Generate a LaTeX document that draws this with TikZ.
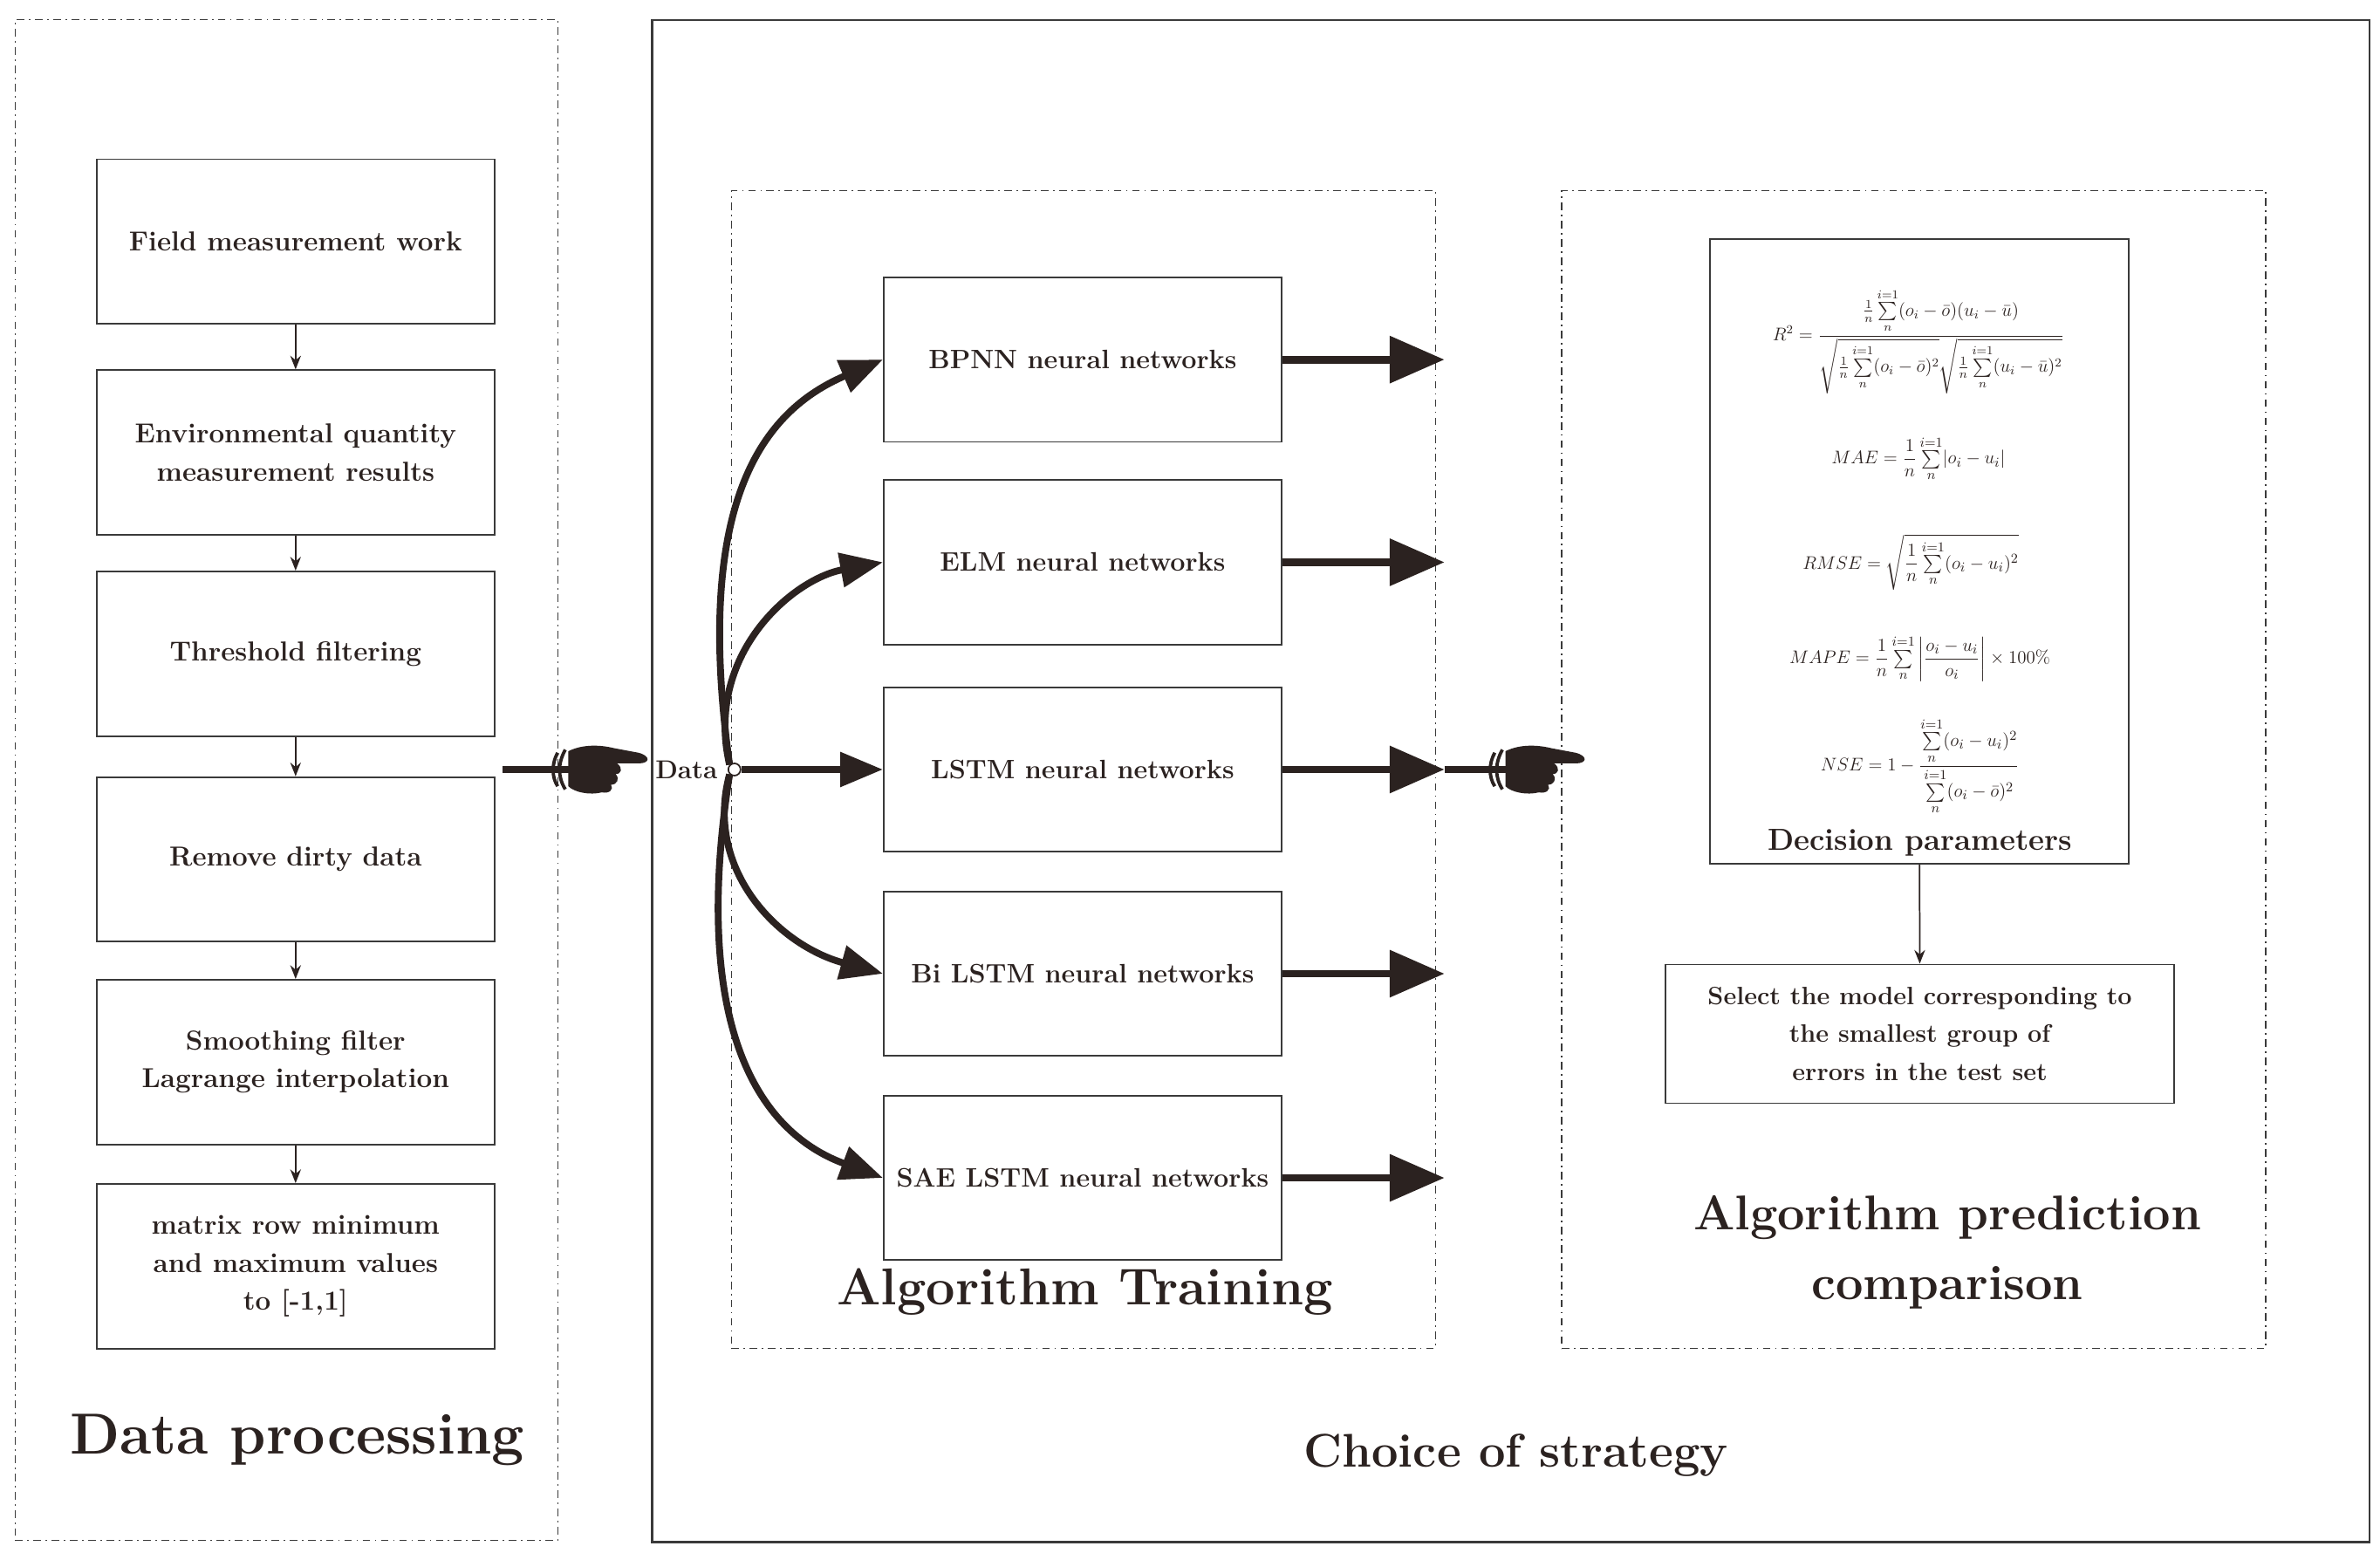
\documentclass[tikz,border=0pt]{standalone}
\usepackage{amsmath}
\usetikzlibrary{arrows.meta}
\definecolor{ink}{HTML}{2B2220}
\definecolor{frame}{HTML}{3A3A3A}
\begin{document}
\begin{tikzpicture}[x=1pt,y=-1pt,
  dd/.style={draw=frame,line width=0.8pt,dash pattern=on 5pt off 3pt on 1pt off 3pt},
  box/.style={draw=frame,line width=1.1pt,text=ink,align=center,font=\fontsize{18}{25}\selectfont\bfseries,inner sep=0pt},
  small/.style={-{Stealth[length=9pt,width=7pt]},line width=1pt,draw=ink},
  big/.style={-{Triangle[length=36pt,width=30pt]},line width=5pt,draw=ink},
  curv/.style={-{Triangle[length=28pt,width=22pt]},line width=4.5pt,draw=ink},
  title/.style={text=ink,font=\fontsize{36}{42}\selectfont\bfseries,align=center},
  eq/.style={text=ink,font=\fontsize{12.5}{15}\selectfont},
]
\useasboundingbox (0,0) rectangle (1562,1019);
% outer frames
\node[dd,minimum width=356pt,minimum height=998pt,inner sep=0pt] (dp) at (188,512) {};
\draw[frame,line width=1.2pt] (428,13) rectangle (1555,1012);
\node[dd,minimum width=462pt,minimum height=760pt,inner sep=0pt] (at) at (711,505) {};
\node[dd,minimum width=462pt,minimum height=760pt,inner sep=0pt] (ap) at (1256,505) {};
% left boxes
\foreach \n/\y/\t in {b1/158.5/Field measurement work,
  b2/297/{Environmental quantity\\ measurement results},
  b3/429/Threshold filtering,
  b4/564/Remove dirty data,
  b5/697/{Smoothing filter\\ Lagrange interpolation},
  b6/831/{matrix row minimum\\ and maximum values\\ to [-1,1]}}
  \node[box,minimum width=261pt,minimum height=108pt] (\n) at (194,\y) {\t};
\foreach \a/\b in {b1/b2,b2/b3,b3/b4,b4/b5,b5/b6} \draw[small] (\a) -- (\b);
\node[title,font=\fontsize{38}{44}\selectfont\bfseries] (tdp) at (195,945) {Data processing};
% NN boxes
\foreach \n/\y/\t in {bp/236/BPNN neural networks, el/369/ELM neural networks,
  ls/505/LSTM neural networks, bi/639/Bi LSTM neural networks, sa/773/SAE LSTM neural networks}
  \node[box,minimum width=261pt,minimum height=108pt,font=\fontsize{17.5}{20}\selectfont\bfseries] (\n) at (710.5,\y) {\t};
\foreach \n in {bp,el,bi,sa} {
  \coordinate (\n o) at (948,0 |- \n.east);
  \draw[big] (\n.east) -- (\n o);
}
\node[title,font=\fontsize{34}{40}\selectfont\bfseries] (tat) at (712,848) {Algorithm Training};
% input
\coordinate (in0) at (330,505);
\coordinate (h1) at (425,505);
\draw[ink,line width=5pt] (in0) -- ++(50,0);
\begin{scope}[shift={(h1)}]
 \fill[ink] (-52,-12) .. controls (-42,-17) and (-30,-16) .. (-22,-14) -- (-6,-11) .. controls (2,-9) and (2,-4) .. (-6,-4) -- (-20,-4) .. controls (-16,-1) and (-17,3) .. (-21,3) .. controls (-18,6) and (-20,10) .. (-24,10) .. controls (-22,13) and (-25,16) .. (-30,15) .. controls (-38,17) and (-48,15) .. (-52,11) -- cycle;
 \draw[ink,line width=2.2pt] (-54,-13) .. controls (-59,-4) and (-59,5) .. (-54,13);
 \draw[ink,line width=2.2pt] (-59,-11) .. controls (-63,-4) and (-63,5) .. (-59,11);
\end{scope}
\node[text=ink,font=\fontsize{17}{20}\selectfont\bfseries,anchor=west,inner sep=1pt] (data) at (429,505) {Data};
\node[circle,draw=ink,fill=white,line width=1pt,minimum size=8pt,inner sep=0pt] (src) at (482,505) {};
\draw[curv] (src) -- (ls.west);
\draw[curv] (src.north west) .. controls (455,330) and (500,270) .. (bp.west);
\draw[curv] (src.north west) .. controls (462,430) and (520,380) .. (el.west);
\draw[curv] (src.south west) .. controls (462,570) and (510,620) .. (bi.west);
\draw[curv] (src.south west) .. controls (455,660) and (490,740) .. (sa.west);
% output to decision
\coordinate (lso) at (948,505);
\coordinate (h2) at (1040,505);
\draw[big] (ls.east) -- (lso);
\draw[ink,line width=5pt] (lso) -- ++(50,0);
\begin{scope}[shift={(h2)}]
 \fill[ink] (-52,-12) .. controls (-42,-17) and (-30,-16) .. (-22,-14) -- (-6,-11) .. controls (2,-9) and (2,-4) .. (-6,-4) -- (-20,-4) .. controls (-16,-1) and (-17,3) .. (-21,3) .. controls (-18,6) and (-20,10) .. (-24,10) .. controls (-22,13) and (-25,16) .. (-30,15) .. controls (-38,17) and (-48,15) .. (-52,11) -- cycle;
 \draw[ink,line width=2.2pt] (-54,-13) .. controls (-59,-4) and (-59,5) .. (-54,13);
 \draw[ink,line width=2.2pt] (-59,-11) .. controls (-63,-4) and (-63,5) .. (-59,11);
\end{scope}
% decision box
\node[box,minimum width=275pt,minimum height=410pt] (dec) at (1259.5,362) {};
\node[eq,font=\fontsize{12}{14}\selectfont] (e1) at (1259,224) {$R^2=\dfrac{\frac{1}{n}\sum\limits_{n}^{i=1}(o_i-\bar o)(u_i-\bar u)}{\sqrt{\frac{1}{n}\sum\limits_{n}^{i=1}(o_i-\bar o)^2}\sqrt{\frac{1}{n}\sum\limits_{n}^{i=1}(u_i-\bar u)^2}}$};
\node[eq] (e2) at (1259,301) {$MAE=\dfrac{1}{n}\sum\limits_{n}^{i=1}\lvert o_i-u_i\rvert$};
\node[eq] (e3) at (1254,369) {$RMSE=\sqrt{\dfrac{1}{n}\sum\limits_{n}^{i=1}(o_i-u_i)^2}$};
\node[eq] (e4) at (1260,432) {$MAPE=\dfrac{1}{n}\sum\limits_{n}^{i=1}\left\lvert\dfrac{o_i-u_i}{o_i}\right\rvert\times100\%$};
\node[eq] (e5) at (1260,503) {$NSE=1-\dfrac{\sum\limits_{n}^{i=1}(o_i-u_i)^2}{\sum\limits_{n}^{i=1}(o_i-\bar o)^2}$};
\node[text=ink,font=\fontsize{20}{24}\selectfont\bfseries] (dpar) at (1260,553) {Decision parameters};
\node[box,minimum width=334pt,minimum height=91pt,font=\fontsize{16.5}{25}\selectfont\bfseries] (sel) at (1260,678.5) {Select the model corresponding to\\ the smallest group of\\ errors in the test set};
\draw[small] (dec) -- (sel);
\node[title,font=\fontsize{32}{46}\selectfont\bfseries] (tap) at (1278,822) {Algorithm prediction\\ comparison};
\node[text=ink,font=\fontsize{31}{38}\selectfont\bfseries] (tcs) at (995,955) {Choice of strategy};
\end{tikzpicture}
\end{document}
